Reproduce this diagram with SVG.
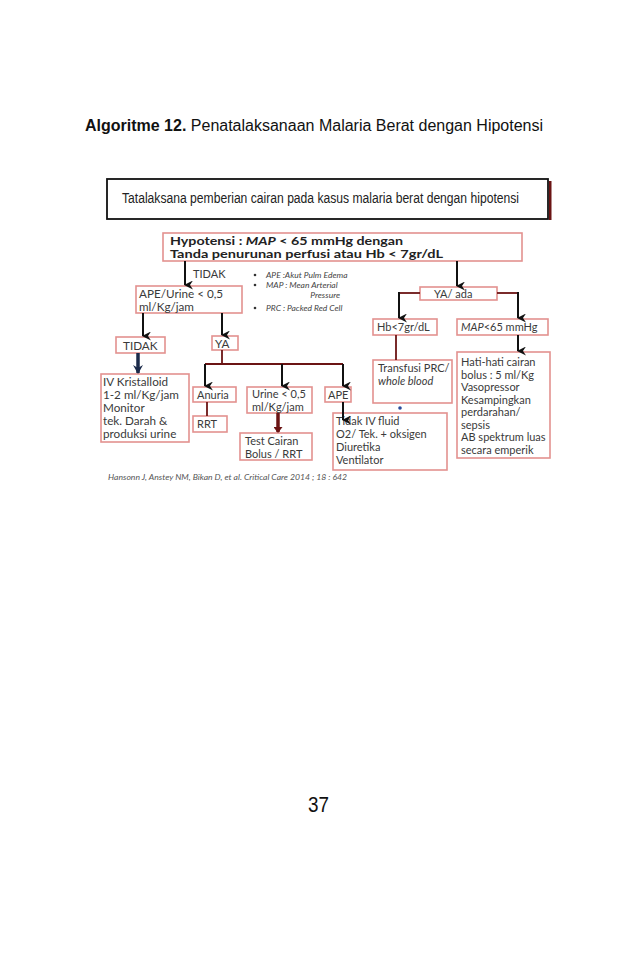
<svg xmlns="http://www.w3.org/2000/svg" width="638" height="971" viewBox="0 0 638 971">
<defs>
<marker id="ah" markerWidth="9" markerHeight="9" refX="4.5" refY="8" orient="auto-start-reverse" markerUnits="userSpaceOnUse" viewBox="0 0 9 9">
<path d="M0,0 L4.5,3 L9,0 L4.5,9 Z" fill="#111"/>
</marker>
<marker id="ahn" markerWidth="10" markerHeight="9" refX="5" refY="8" markerUnits="userSpaceOnUse" viewBox="0 0 10 9">
<path d="M0,0 L5,3 L10,0 L5,9 Z" fill="#1b2a4a"/>
</marker>
<marker id="ahr" markerWidth="9" markerHeight="6" refX="4.5" refY="5" markerUnits="userSpaceOnUse" viewBox="0 0 9 6">
<path d="M0,0 L9,0 L4.5,6 Z" fill="#6b1414"/>
</marker>
</defs>
<style>
.bx{fill:#fff;stroke:#e3918f;stroke-width:1.6}
.t{font-family:Lato,"Open Sans",sans-serif;font-size:11px;fill:#3a3a3a}
.tl{font-size:11.7px}
.ti{font-style:italic}
.ar{stroke:#111;stroke-width:2;fill:none}
.rl{stroke:#6b1414;stroke-width:1.8;fill:none}
.leg{font-family:Lato,"Open Sans",sans-serif;font-size:8.5px;font-style:italic;fill:#444}
.hy{font-family:Lato,"Open Sans",sans-serif;font-size:11.5px;font-weight:bold;fill:#222}
</style>
<rect width="638" height="971" fill="#fff"/>

<g id="title">
<text x="85" y="131" font-family="Liberation Sans, Arial, sans-serif" font-size="16" fill="#111"><tspan font-weight="bold">Algoritme 12.</tspan> Penatalaksanaan Malaria Berat dengan Hipotensi</text>
</g>

<g id="header">
<rect x="549" y="181" width="2.5" height="39" fill="#6b1414"/>
<rect x="107" y="179" width="441" height="40" fill="#fff" stroke="#111" stroke-width="1.8"/>
<text x="122" y="203" font-family="Liberation Sans, Arial, sans-serif" font-size="14" fill="#222" textLength="397" lengthAdjust="spacingAndGlyphs">Tatalaksana pemberian cairan pada kasus malaria berat dengan hipotensi</text>
</g>

<g id="hipotensi">
<rect class="bx" x="163" y="233" width="359" height="28"/>
<text class="hy" x="170" y="245" textLength="233" lengthAdjust="spacingAndGlyphs">Hypotensi : <tspan font-style="italic">MAP</tspan> &lt; 65 mmHg dengan</text>
<text class="hy" x="170" y="258" textLength="273" lengthAdjust="spacingAndGlyphs">Tanda penurunan perfusi atau Hb &lt; 7gr/dL</text>
</g>

<g id="legend">
<circle cx="255" cy="275" r="1.3" fill="#333"/>
<text class="leg" x="266" y="277.5">APE :Akut Pulm Edema</text>
<circle cx="255" cy="285" r="1.3" fill="#333"/>
<text class="leg" x="266" y="287.5">MAP : Mean Arterial</text>
<text class="leg" x="340" y="298" text-anchor="end">Pressure</text>
<circle cx="255" cy="308" r="1.3" fill="#333"/>
<text class="leg" x="266" y="310.5">PRC : Packed Red Cell</text>
</g>

<g id="ape-urine">
<rect class="bx" x="136" y="286" width="106" height="27"/>
<text class="t tl" x="139" y="297.5">APE/Urine &lt; 0,5</text>
<text class="t tl" x="139" y="310.5">ml/Kg/jam</text>
</g>

<g id="tidak">
<rect class="bx" x="116" y="337" width="49" height="16"/>
<text class="t tl" x="123" y="349.5">TIDAK</text>
</g>

<g id="ya">
<rect class="bx" x="212" y="336" width="26" height="14"/>
<text class="t tl" x="215" y="347.5">YA</text>
</g>

<g id="iv-kristalloid">
<rect class="bx" x="101" y="374" width="88" height="68"/>
<text class="t tl" x="103" y="386">IV Kristalloid</text>
<text class="t tl" x="103" y="399">1-2 ml/Kg/jam</text>
<text class="t tl" x="103" y="412">Monitor</text>
<text class="t tl" x="103" y="425">tek. Darah &amp;</text>
<text class="t tl" x="103" y="438">produksi urine</text>
</g>

<g id="anuria">
<rect class="bx" x="193" y="387" width="43" height="15"/>
<text class="t" x="197" y="398.5">Anuria</text>
</g>

<g id="urine">
<rect class="bx" x="247" y="387" width="65" height="26"/>
<text class="t" x="252" y="398">Urine &lt; 0,5</text>
<text class="t" x="252" y="410.5">ml/Kg/jam</text>
</g>

<g id="ape">
<rect class="bx" x="325" y="387" width="26" height="15"/>
<text class="t" x="328" y="398.5">APE</text>
</g>

<g id="rrt">
<rect class="bx" x="193" y="416" width="34" height="16"/>
<text class="t" x="197" y="428">RRT</text>
</g>

<g id="test-cairan">
<rect class="bx" x="240" y="433" width="72" height="27"/>
<text class="t" x="245" y="445">Test Cairan</text>
<text class="t" x="245" y="457.5">Bolus / RRT</text>
</g>

<g id="tidak-iv">
<rect class="bx" x="333" y="413" width="114" height="57"/>
<text class="t" x="336" y="425">Tidak IV fluid</text>
<text class="t" x="336" y="438">O2/ Tek. + oksigen</text>
<text class="t" x="336" y="451">Diuretika</text>
<text class="t" x="336" y="464">Ventilator</text>
</g>

<g id="ya-ada">
<rect class="bx" x="420" y="287" width="77" height="13"/>
<text class="t" x="434" y="297.5">YA/ ada</text>
</g>

<g id="hb">
<rect class="bx" x="373" y="319" width="64" height="16"/>
<text class="t" x="377" y="331">Hb&lt;7gr/dL</text>
</g>

<g id="map">
<rect class="bx" x="457" y="319" width="91" height="16"/>
<text class="t" x="461" y="331"><tspan class="ti">MAP</tspan>&lt;65 mmHg</text>
</g>

<g id="transfusi">
<rect class="bx" x="373" y="360" width="79" height="43"/>
<text class="t" x="378" y="372">Transfusi PRC/</text>
<text class="t ti" x="378" y="385">whole blood</text>
</g>

<g id="hati-hati">
<rect class="bx" x="457" y="352" width="93" height="106"/>
<text class="t" x="461" y="366">Hati-hati cairan</text>
<text class="t" x="461" y="378.5">bolus : 5 ml/Kg</text>
<text class="t" x="461" y="391">Vasopressor</text>
<text class="t" x="461" y="403.5">Kesampingkan</text>
<text class="t" x="461" y="416">perdarahan/</text>
<text class="t" x="461" y="428.5">sepsis</text>
<text class="t" x="461" y="441">AB spektrum luas</text>
<text class="t" x="461" y="453.5">secara emperik</text>
</g>

<g id="connectors">
<line class="ar" x1="185" y1="261" x2="185" y2="285" marker-end="url(#ah)"/>
<text class="t" x="193" y="278">TIDAK</text>
<line class="ar" x1="457" y1="261" x2="457" y2="286" marker-end="url(#ah)"/>
<line class="ar" x1="143" y1="313" x2="143" y2="336" marker-end="url(#ah)"/>
<line class="ar" x1="222" y1="313" x2="222" y2="335" marker-end="url(#ah)"/>
<line x1="138" y1="353" x2="138" y2="373" stroke="#1b2a4a" stroke-width="3.5" marker-end="url(#ahn)"/>
<polyline class="rl" points="222,350 222,364"/>
<line class="rl" x1="205" y1="364" x2="343" y2="364"/>
<line class="ar" x1="205" y1="364" x2="205" y2="386" marker-end="url(#ah)"/>
<line class="ar" x1="282" y1="364" x2="282" y2="386" marker-end="url(#ah)"/>
<line class="ar" x1="343" y1="364" x2="343" y2="386" marker-end="url(#ah)"/>
<line class="rl" x1="207" y1="402" x2="207" y2="416"/>
<line x1="278" y1="413" x2="278" y2="432" stroke="#6b1414" stroke-width="3.5" marker-end="url(#ahr)"/>
<line class="ar" x1="343" y1="402" x2="343" y2="420" marker-end="url(#ah)"/>
<polyline class="rl" points="420,293 399,293"/>
<line class="ar" x1="399" y1="292" x2="399" y2="318" marker-end="url(#ah)"/>
<polyline class="rl" points="497,293 518,293"/>
<line class="ar" x1="518" y1="292" x2="518" y2="318" marker-end="url(#ah)"/>
<line class="rl" x1="396" y1="335" x2="396" y2="360"/>
<line class="ar" x1="518" y1="335" x2="518" y2="351" marker-end="url(#ah)"/>
<circle cx="400" cy="408" r="1.8" fill="#2a4a9a"/>
</g>

<g id="citation">
<text x="108" y="480" font-family="Lato, Open Sans, sans-serif" font-size="7.5" font-style="italic" fill="#555" textLength="239" lengthAdjust="spacingAndGlyphs">Hansonn J, Anstey NM, Bikan D, et al. Critical Care 2014 ; 18 : 642</text>
</g>

<g id="page-number">
<text x="318.5" y="812" font-family="Liberation Sans, Arial, sans-serif" font-size="22" fill="#111" text-anchor="middle" textLength="21" lengthAdjust="spacingAndGlyphs">37</text>
</g>
</svg>
